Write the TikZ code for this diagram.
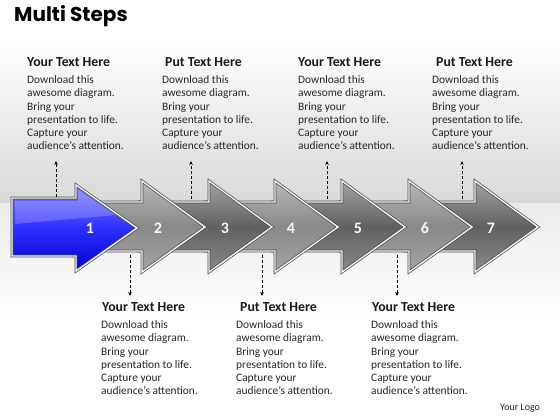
\documentclass[tikz,border=0pt]{standalone}
\usepackage{fontspec}
\usetikzlibrary{arrows.meta}
\setmainfont{Carlito}
\newfontfamily\titlefont{Poppins}
\begin{document}
\begin{tikzpicture}[x=1pt,y=-1pt,
  bodytxt/.style={anchor=north west,align=left,inner sep=0pt,font=\fontsize{11.4}{13.25}\selectfont,text=black!85},
  headtxt/.style={anchor=west,inner sep=0pt,font=\fontsize{13.8}{15}\selectfont\bfseries,text=black!90},
  numtxt/.style={inner sep=0pt,font=\fontsize{16}{18}\selectfont\bfseries,text=white!94!gray},
  arrowedge/.style={draw=black!70,line width=0.7pt,double=white!90!gray,double distance=1.4pt,line join=miter},
  lightarrow/.style={arrowedge,top color=black!28,bottom color=black!36,middle color=black!46},
  darkarrow/.style={arrowedge,top color=black!36,bottom color=black!46,middle color=black!62},
  bluearrow/.style={arrowedge,top color=blue!50!white,bottom color=blue!80!black,middle color=blue!82},
  callout/.style={densely dashed,line width=0.8pt,-{Stealth[length=4pt,width=3.5pt]}}]
\useasboundingbox (0,0) rectangle (560,420);
% background
\fill[white] (0,0) rectangle (560,40);
\shade[top color=white,bottom color=black!15] (0,40) rectangle (560,203);
\shade[top color=black!8,bottom color=white] (0,203) rectangle (560,320);
\fill[white] (0,320) rectangle (560,420);
% title
\node[anchor=west,inner sep=0pt,font=\titlefont\bfseries\fontsize{20}{23}\selectfont] (title) at (14,16) {Multi Steps};
% grey arrows, rear first
\foreach \k/\t/\st in {7/538/darkarrow,6/472/lightarrow,5/405/darkarrow,4/338/lightarrow,3/272/darkarrow,2/205/lightarrow}{
  \pgfmathsetmacro{\hb}{\t-63}
  \pgfmathsetmacro{\tl}{\hb-70}
  \draw[\st] (\tl,202) -- (\hb,202) -- (\hb,181) -- (\t,227) -- (\hb,272) -- (\hb,251) -- (\tl,251) -- cycle;
  \node[numtxt] (n\k) at (\hb+16,228) {\k};
}
% blue arrow
\draw[bluearrow] (12,198) -- (76,198) -- (76,185) -- (137,228) -- (76,271) -- (76,256) -- (12,256) -- cycle;
\fill[white,opacity=0.2] (15,201) -- (78,201) -- (78,190) -- (116,215) -- (15,224) -- cycle;
\node[numtxt] (n1) at (90,228) {1};
% callout connectors
\coordinate (u1a) at (56,197); \coordinate (u1b) at (56,161);
\coordinate (u2a) at (191,199); \coordinate (u2b) at (191,161);
\coordinate (u3a) at (327,199); \coordinate (u3b) at (327,161);
\coordinate (u4a) at (462,199); \coordinate (u4b) at (462,161);
\coordinate (d1a) at (130,255); \coordinate (d1b) at (130,296);
\coordinate (d2a) at (262,255); \coordinate (d2b) at (262,296);
\coordinate (d3a) at (397,255); \coordinate (d3b) at (397,296);
\foreach \c in {u1,u2,u3,u4,d1,d2,d3}{\draw[callout] (\c a) -- (\c b);}
% upper texts
\node[headtxt] (h1) at (27,62) {Your Text Here};
\node[headtxt] (h2) at (165,62) {Put Text Here};
\node[headtxt] (h3) at (298,62) {Your Text Here};
\node[headtxt] (h4) at (436,62) {Put Text Here};
\node[bodytxt] (b1) at (27,75.5) {Download this\\awesome diagram.\\Bring your\\presentation to life.\\Capture your\\audience’s attention.};
\node[bodytxt] (b2) at (162,75.5) {Download this\\awesome diagram.\\Bring your\\presentation to life.\\Capture your\\audience’s attention.};
\node[bodytxt] (b3) at (298,75.5) {Download this\\awesome diagram.\\Bring your\\presentation to life.\\Capture your\\audience’s attention.};
\node[bodytxt] (b4) at (432,75.5) {Download this\\awesome diagram.\\Bring your\\presentation to life.\\Capture your\\audience’s attention.};
% lower texts
\node[headtxt] (h5) at (102,307) {Your Text Here};
\node[headtxt] (h6) at (240,307) {Put Text Here};
\node[headtxt] (h7) at (372,307) {Your Text Here};
\node[bodytxt] (b5) at (101,320.5) {Download this\\awesome diagram.\\Bring your\\presentation to life.\\Capture your\\audience’s attention.};
\node[bodytxt] (b6) at (236,320.5) {Download this\\awesome diagram.\\Bring your\\presentation to life.\\Capture your\\audience’s attention.};
\node[bodytxt] (b7) at (371,320.5) {Download this\\awesome diagram.\\Bring your\\presentation to life.\\Capture your\\audience’s attention.};
\node[anchor=west,inner sep=0pt,font=\fontsize{10}{12}\selectfont,text=black!85] (logo) at (500,408) {Your Logo};
\end{tikzpicture}
\end{document}
